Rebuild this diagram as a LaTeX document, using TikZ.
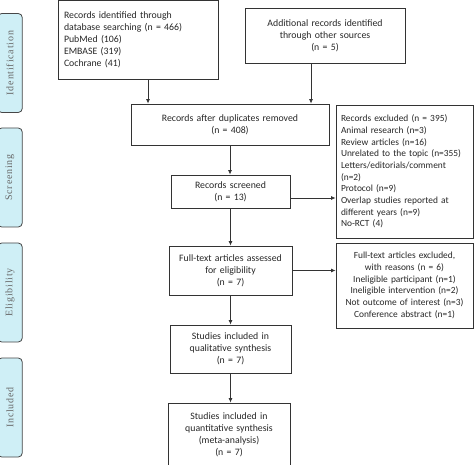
\documentclass[tikz,border=0pt]{standalone}
\usepackage{fontspec}
\setmainfont{Carlito}
\newfontfamily\etapefont[LetterSpace=8]{Liberation Serif}
\usetikzlibrary{arrows.meta}

\definecolor{etapefond}{HTML}{CFEFF6}
\definecolor{trait}{HTML}{333333}

\tikzset{
  boite/.style={draw=trait, line width=0.8pt, inner xsep=6pt, inner ysep=0pt,
    font=\fontsize{9.8}{12}\selectfont, text=black!85},
  serre/.style={font=\fontsize{9.4}{11.7}\selectfont},
  etape/.style={draw=trait!90, fill=etapefond, rounded corners=4pt, line width=0.8pt,
    minimum width=99pt, minimum height=24.5pt, inner sep=0pt, rotate=90,
    font=\etapefont\fontsize{10}{12}\selectfont, text=black!60},
  fleche/.style={draw=trait, line width=0.8pt, -{Latex[length=4.5pt,width=4pt]}},
}

\begin{document}
\begin{tikzpicture}[x=1pt, y=-1pt]
  \useasboundingbox (0,0) rectangle (474,465);

  % Les étapes
  \node[etape] (ident)  at (10,63)    {Identification};
  \node[etape] (screen) at (10,177.5) {Screening};
  \node[etape] (elig)   at (10,292.5) {Eligibility};
  \node[etape] (incl)   at (10,407.5) {Included};

  % Les boîtes
  \node[boite, text width=148pt, minimum height=78.5pt, align=left] (base) at (138,39.75)
    {Records identified through\\database searching (n = 466)\\PubMed (106)\\EMBASE (319)\\Cochrane (41)};
  \node[boite, text width=148pt, minimum height=55pt, align=center] (autres) at (325,35.5)
    {Additional records identified\\through other sources\\(n = 5)};
  \node[boite, text width=186pt, minimum height=41pt, align=center] (doublons) at (230,124.5)
    {Records after duplicates removed\\(n = 408)};
  \node[boite, text width=107pt, minimum height=33pt, align=center] (tries) at (230.5,191.5)
    {Records screened\\(n = 13)};
  \node[boite, serre, text width=127pt, inner xsep=5pt, minimum height=133pt, align=left] (exclus) at (404.5,171.5)
    {Records excluded (n = 395)\\Animal research (n=3)\\Review articles (n=16)\\Unrelated to the topic (n=355)\\Letters/editorials/comment\\(n=2)\\Protocol (n=9)\\Overlap studies reported at\\different years (n=9)\\No-RCT (4)};
  \node[boite, text width=111pt, minimum height=49pt, align=center] (texte) at (230.5,270.5)
    {Full-text articles assessed\\for eligibility\\(n = 7)};
  \node[boite, serre, text width=127pt, inner xsep=5pt, minimum height=85pt, align=center] (rejetes) at (404.5,285.5)
    {Full-text articles excluded,\\with reasons (n = 6)\\Ineligible participant (n=1)\\Ineligible intervention (n=2)\\Not outcome of interest (n=3)\\Conference abstract (n=1)};
  \node[boite, text width=109pt, minimum height=48pt, align=center] (quali) at (230.5,349)
    {Studies included in\\qualitative synthesis\\(n = 7)};
  \node[boite, text width=110pt, minimum height=63pt, align=center] (quanti) at (229,434.5)
    {Studies included in\\quantitative synthesis\\(meta-analysis)\\(n = 7)};

  % Les flèches
  \draw[fleche] ([xshift=10pt]base.south) -- ([xshift=10pt]base.south |- doublons.north);
  \draw[fleche] ([xshift=-14pt]autres.south) -- ([xshift=-14pt]autres.south |- doublons.north);
  \draw[fleche] (doublons.south) -- (doublons.south |- tries.north);
  \draw[fleche] ([yshift=-6.5pt]tries.east) -- ([yshift=-6.5pt]tries.east -| exclus.west);
  \draw[fleche] (tries.south) -- (tries.south |- texte.north);
  \draw[fleche] (texte.east) -- (texte.east -| rejetes.west);
  \draw[fleche] (texte.south) -- (texte.south |- quali.north);
  \draw[fleche] (quali.south) -- (quali.south |- quanti.north);

\end{tikzpicture}
\end{document}
